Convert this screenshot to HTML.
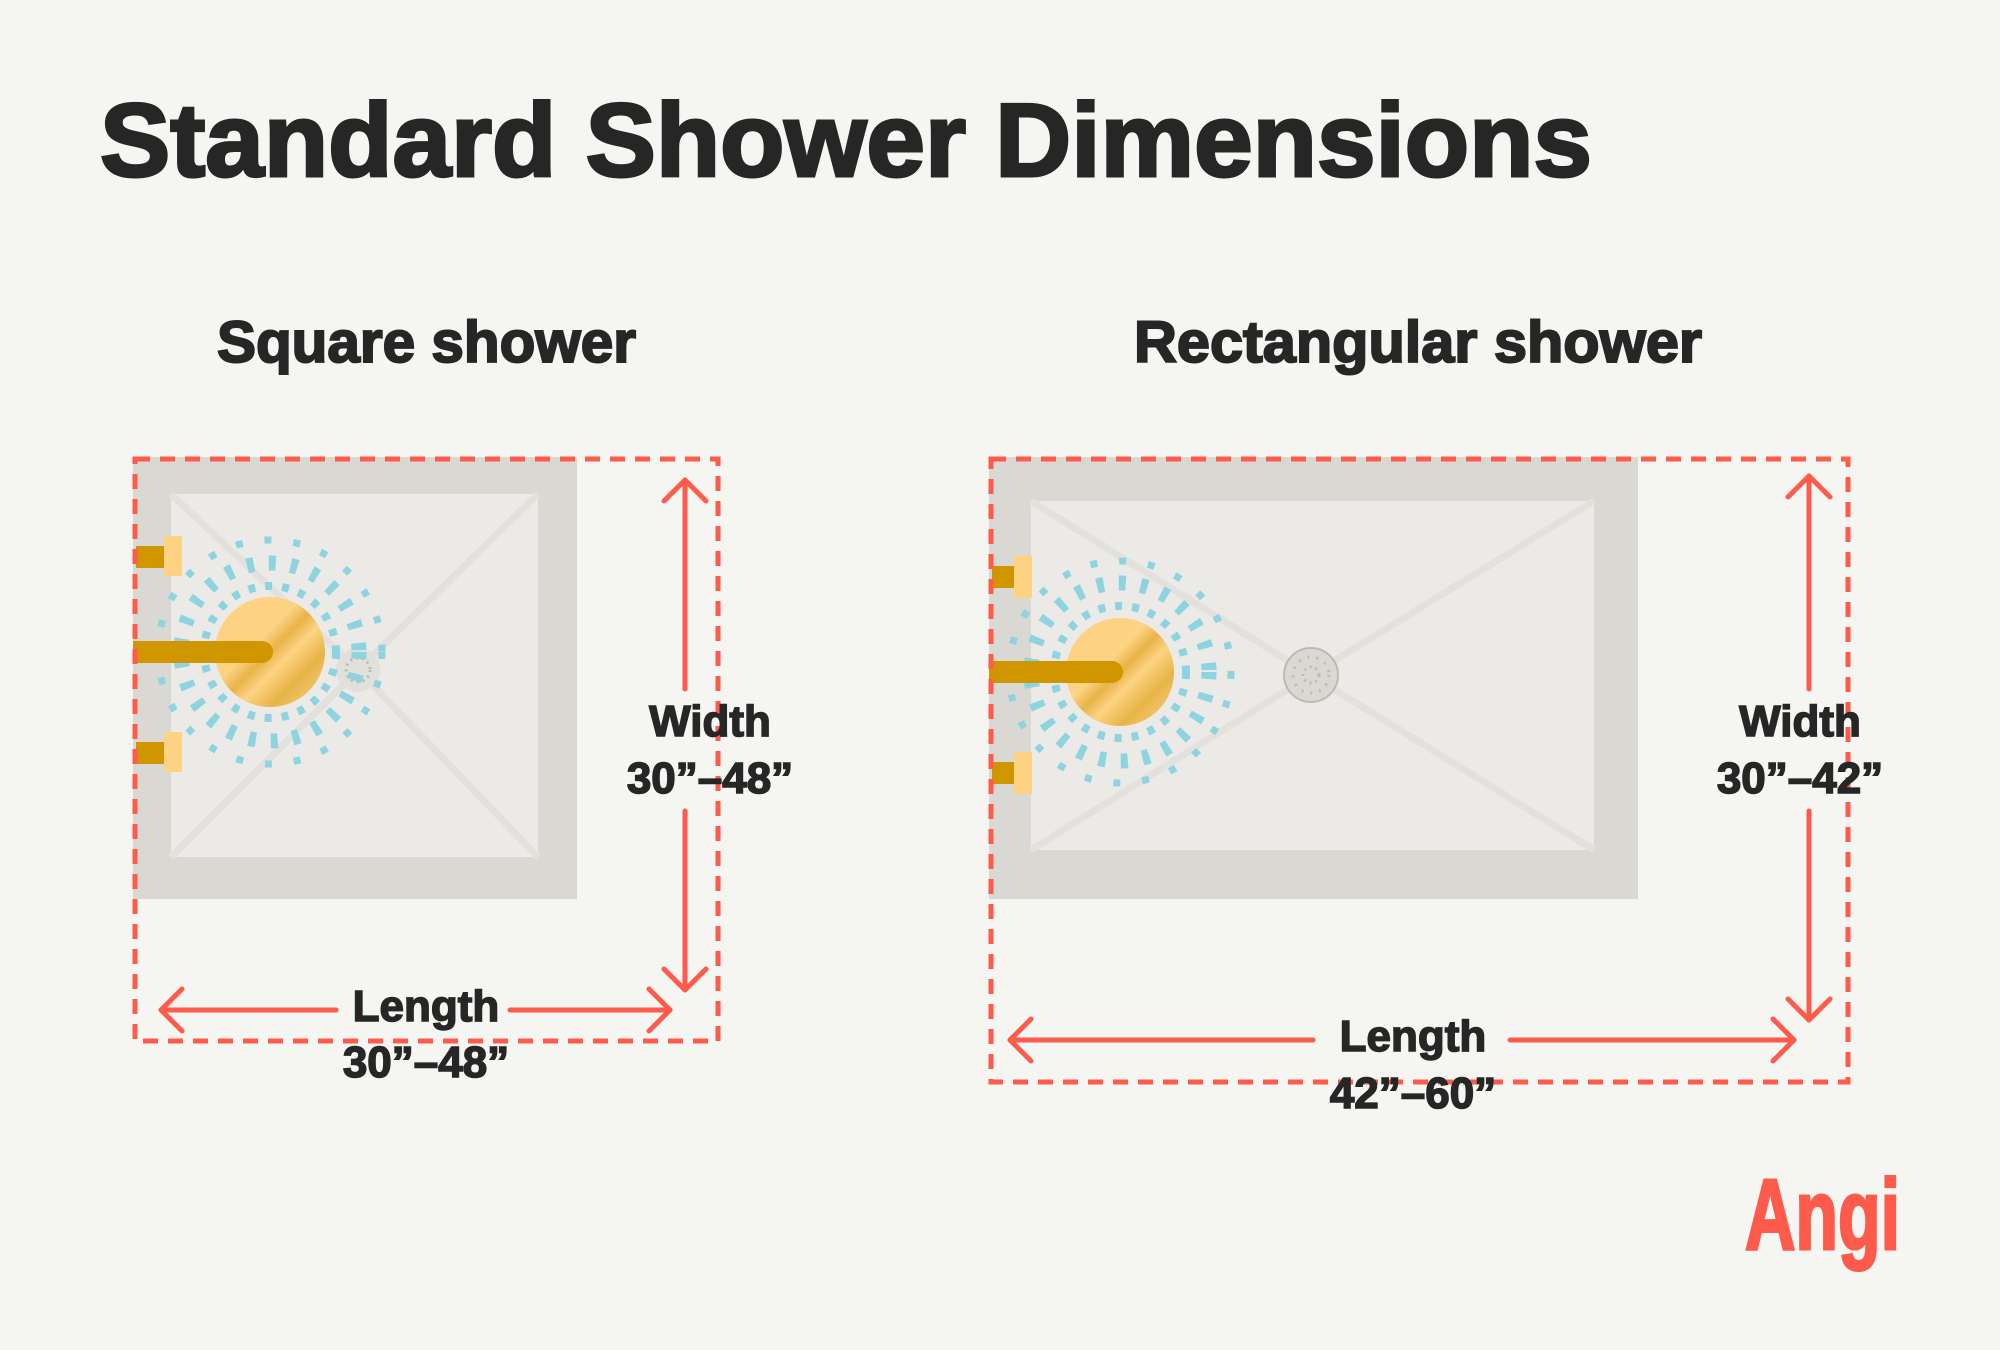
<!DOCTYPE html>
<html><head><meta charset="utf-8"><style>
html,body{margin:0;padding:0;background:#f5f5f1;}
svg{display:block}
text{font-family:"Liberation Sans",sans-serif;font-weight:bold;fill:#262626;stroke:#262626;stroke-width:1.5px}
</style></head><body>
<svg width="2000" height="1350" viewBox="0 0 2000 1350" xmlns="http://www.w3.org/2000/svg">
<rect width="2000" height="1350" fill="#f5f5f1"/>
<text x="100" y="176" font-size="104" textLength="1492" lengthAdjust="spacingAndGlyphs" style="stroke-width:3px">Standard Shower Dimensions</text>
<text x="217" y="362" font-size="58" textLength="419" lengthAdjust="spacingAndGlyphs" style="stroke-width:2px">Square shower</text>
<text x="1134" y="362" font-size="58" textLength="568" lengthAdjust="spacingAndGlyphs" style="stroke-width:2px">Rectangular shower</text>

<defs>
<linearGradient id="g" x1="0" y1="0" x2="1" y2="1">
<stop offset="0" stop-color="#fdd383"/><stop offset="0.4" stop-color="#fdd383"/>
<stop offset="0.5" stop-color="#e8b448"/><stop offset="0.6" stop-color="#fdd383"/>
<stop offset="0.75" stop-color="#e8b448"/><stop offset="1" stop-color="#fdd383"/>
</linearGradient>
</defs>

<!-- Square shower -->
<rect x="133" y="457" width="444" height="442" fill="#dad8d3"/>
<rect x="171" y="494" width="367" height="363" fill="#ebeae6"/>
<g stroke="#e3e1dc" stroke-width="7">
<line x1="171" y1="494" x2="358" y2="670"/><line x1="538" y1="494" x2="358" y2="670"/>
<line x1="171" y1="857" x2="358" y2="670"/><line x1="538" y1="857" x2="358" y2="670"/>
</g>
<circle cx="358" cy="670" r="22" fill="#e2e0db"/>
<circle cx="358" cy="670" r="12" fill="none" stroke="#bdbab4" stroke-width="3" stroke-dasharray="2 4"/>
<g fill="none" stroke="#8dd3e0">
<circle cx="270" cy="652" r="66" stroke-width="8" stroke-dasharray="7 10"/>
<circle cx="270" cy="652" r="89" stroke-width="15" stroke-dasharray="7 15"/>
<circle cx="270" cy="652" r="112" stroke-width="7" stroke-dasharray="7 22"/>
</g>
<circle cx="270" cy="652" r="55" fill="url(#g)"/>
<line x1="133" y1="652" x2="262" y2="652" stroke="#d09600" stroke-width="22"/>
<circle cx="262" cy="652" r="11" fill="#d09600"/>
<rect x="136" y="546" width="28" height="22" fill="#d09600"/><rect x="164" y="536" width="18" height="40" fill="#fdd383"/>
<rect x="136" y="742" width="28" height="22" fill="#d09600"/><rect x="164" y="732" width="18" height="40" fill="#fdd383"/>

<!-- Rect shower -->
<rect x="989" y="457" width="649" height="442" fill="#dad8d3"/>
<rect x="1031" y="501" width="563" height="349" fill="#ebeae6"/>
<g stroke="#e3e1dc" stroke-width="7">
<line x1="1031" y1="501" x2="1311" y2="675"/><line x1="1594" y1="501" x2="1311" y2="675"/>
<line x1="1031" y1="850" x2="1311" y2="675"/><line x1="1594" y1="850" x2="1311" y2="675"/>
</g>
<circle cx="1311" cy="675" r="27" fill="#dad8d3" stroke="#bdbab4" stroke-width="2"/>
<circle cx="1311" cy="675" r="18" fill="none" stroke="#bdbab4" stroke-width="3" stroke-dasharray="2 7"/>
<circle cx="1311" cy="675" r="8" fill="none" stroke="#bdbab4" stroke-width="3" stroke-dasharray="2 4"/>
<g fill="none" stroke="#8dd3e0">
<circle cx="1120" cy="672" r="66" stroke-width="8" stroke-dasharray="7 10"/>
<circle cx="1120" cy="672" r="89" stroke-width="15" stroke-dasharray="7 15"/>
<circle cx="1120" cy="672" r="111" stroke-width="7" stroke-dasharray="7 22"/>
</g>
<circle cx="1120" cy="672" r="54" fill="url(#g)"/>
<line x1="989" y1="672" x2="1112" y2="672" stroke="#d09600" stroke-width="22"/>
<circle cx="1112" cy="672" r="11" fill="#d09600"/>
<rect x="992" y="566" width="22" height="22" fill="#d09600"/><rect x="1014" y="556" width="18" height="42" fill="#fdd383"/>
<rect x="992" y="762" width="22" height="22" fill="#d09600"/><rect x="1014" y="752" width="18" height="42" fill="#fdd383"/>

<!-- Dashed bounds -->
<g fill="none" stroke="#fe5b4c" stroke-width="5" stroke-dasharray="15 10">
<rect x="135" y="459" width="583" height="582"/>
<rect x="991" y="459" width="857" height="623"/>
</g>

<!-- Arrows -->
<g fill="none" stroke="#fe5b4c" stroke-width="5" stroke-linecap="round" stroke-linejoin="round">
<line x1="685" y1="480" x2="685" y2="689"/><polyline points="664,501 685,480 706,501"/>
<line x1="685" y1="811" x2="685" y2="990"/><polyline points="664,969 685,990 706,969"/>
<line x1="161" y1="1010" x2="336" y2="1010"/><polyline points="182,989 161,1010 182,1031"/>
<line x1="510" y1="1010" x2="670" y2="1010"/><polyline points="649,989 670,1010 649,1031"/>

<line x1="1809" y1="476" x2="1809" y2="689"/><polyline points="1788,497 1809,476 1830,497"/>
<line x1="1809" y1="811" x2="1809" y2="1020"/><polyline points="1788,999 1809,1020 1830,999"/>
<line x1="1010" y1="1040" x2="1313" y2="1040"/><polyline points="1031,1019 1010,1040 1031,1061"/>
<line x1="1510" y1="1040" x2="1794" y2="1040"/><polyline points="1773,1019 1794,1040 1773,1061"/>
</g>

<g font-size="44" text-anchor="middle">
<text x="710" y="736">Width</text>
<text x="710" y="793">30”–48”</text>
<text x="426" y="1021">Length</text>
<text x="426" y="1077">30”–48”</text>
<text x="1800" y="736">Width</text>
<text x="1800" y="793">30”–42”</text>
<text x="1413" y="1051">Length</text>
<text x="1413" y="1108">42”–60”</text>
</g>

<text x="1745" y="1249" font-size="100" textLength="155" lengthAdjust="spacingAndGlyphs" style="fill:#fe5b4c;stroke:#fe5b4c;stroke-width:3px">Angi</text>
</svg>
</body></html>
